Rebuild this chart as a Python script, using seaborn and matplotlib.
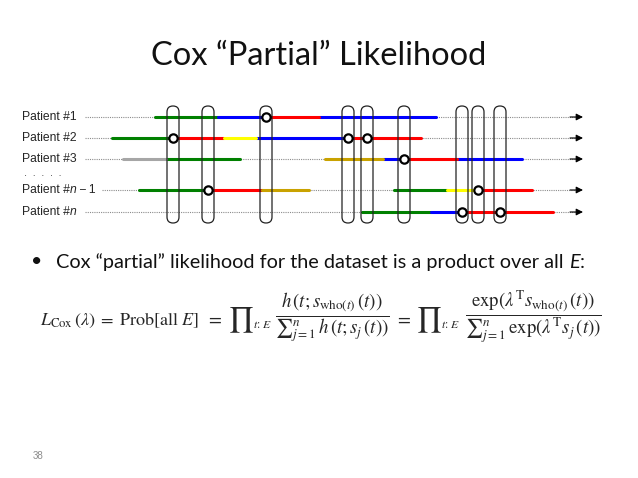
import numpy as np
import pandas as pd
import matplotlib

matplotlib.use('Agg')
import matplotlib.pyplot as plt
from matplotlib.patches import FancyBboxPatch
import seaborn as sns

# patient rows (label pieces: text, italic?)
row_labels = [
    [('Patient #1', False)],
    [('Patient #2', False)],
    [('Patient #3', False)],
    [('Patient #', False), ('n', True), ('\u2009\u2212\u20091', False)],
    [('Patient #', False), ('n', True)],
]
row_y = [117, 138, 159, 190, 212]
line_start = [85, 85, 85, 102, 85]
line_end = 576

# coloured covariate segments per row: (start, end, colour)
segments = [
    [(155, 218, 'green'), (218, 266, 'blue'), (266, 319, 'red'), (319, 436, 'blue')],
    [(112, 173, 'green'), (173, 224, 'red'), (224, 256, 'yellow'), (256, 348, 'blue'),
     (348, 421, 'red')],
    [(123, 166, 'gray'), (166, 240, 'green'), (325, 383, 'olive'), (383, 404, 'blue'),
     (404, 457, 'red'), (457, 522, 'blue')],
    [(139, 208, 'green'), (208, 262, 'red'), (262, 309, 'olive'), (394, 447, 'green'),
     (447, 478, 'yellow'), (478, 532, 'red')],
    [(362, 431, 'green'), (431, 462, 'blue'), (462, 553, 'red')],
]
palette = {'green': '#008000', 'blue': '#0000FF', 'red': '#FF0000',
           'yellow': '#FFFF00', 'gray': '#A6A6A6', 'olive': '#C9A200'}

# event times and which patient had the event
event_times = [173, 208, 266, 348, 367, 404, 462, 478, 500]
event_rows = [1, 3, 0, 1, 1, 2, 4, 3, 4]

title = 'Cox \u201cPartial\u201d Likelihood'
bullet = 'Cox \u201cpartial\u201d likelihood for the dataset is a product over all '

sns.set_theme(style='white')
plt.rcParams['font.family'] = ['Liberation Sans', 'DejaVu Sans']
plt.rcParams['mathtext.fontset'] = 'stix'

fig = plt.figure(figsize=(6.38, 4.78), dpi=100)
ax = fig.add_axes([0, 0, 1, 1])
ax.set_xlim(0, 638)
ax.set_ylim(478, 0)
ax.axis('off')

# title
ax.text(319, 56, title, ha='center', va='center', fontsize=23.5, family='Lato', color='#111111')

# baseline dotted lines and arrows
for y, x0 in zip(row_y, line_start):
    ax.hlines(y, x0, line_end, colors='#8c8c8c', linestyles=(0, (1, 1)), lw=0.8, zorder=1)
    ax.annotate('', xy=(583, y), xytext=(570, y),
                arrowprops=dict(arrowstyle='-|>', color='black', lw=0.8,
                                mutation_scale=10, shrinkA=0, shrinkB=0), zorder=2)

# row labels
for pieces, y in zip(row_labels, row_y):
    prev = None
    for txt, it in pieces:
        style = 'italic' if it else 'normal'
        if prev is None:
            prev = ax.text(22, y, txt, ha='left', va='center', fontsize=8.7, style=style)
        else:
            prev = ax.annotate(txt, xy=(1, 0.5), xycoords=prev, ha='left', va='center',
                               fontsize=8.7, style=style)
ax.text(24, 176, '\u00b7  \u00b7  \u00b7  \u00b7  \u00b7', ha='left', va='center', fontsize=7)

# coloured segments
rows = []
seg_id = 0
for r, segs in enumerate(segments):
    for x0, x1, c in segs:
        rows.append({'x': x0, 'y': row_y[r], 'seg': seg_id, 'colour': c})
        rows.append({'x': x1, 'y': row_y[r], 'seg': seg_id, 'colour': c})
        seg_id += 1
seg_df = pd.DataFrame(rows)
sns.lineplot(data=seg_df, x='x', y='y', hue='colour', units='seg', estimator=None,
             palette=palette, sort=False, lw=2.2, legend=False, ax=ax, zorder=3)
ax.set_xlim(0, 638)
ax.set_ylim(478, 0)

# event boxes
for t in event_times:
    ax.add_patch(FancyBboxPatch((t - 6, 106), 12, 117,
                                boxstyle='round,pad=0,rounding_size=6',
                                fc='none', ec='#222222', lw=0.9, zorder=4))

ev_df = pd.DataFrame({'t': event_times, 'y': [row_y[r] for r in event_rows]})
sns.scatterplot(data=ev_df, x='t', y='y', s=36, color='white', edgecolor='black',
                linewidth=1.6, ax=ax, zorder=5)
ax.set_xlabel('')
ax.set_ylabel('')

# bullet line
ax.text(31, 262, '\u2022', ha='left', va='center', fontsize=14, family='Lato', color='#111111')
b = ax.text(56, 262, bullet, ha='left', va='center', fontsize=14.3, family='Lato',
            color='#111111')
b2 = ax.annotate('E', xy=(1, 0.5), xycoords=b, ha='left', va='center', fontsize=14.3,
                 family='Lato', style='italic', color='#111111')
ax.annotate(':', xy=(1, 0.5), xycoords=b2, ha='left', va='center', fontsize=14.3,
            family='Lato', color='#111111')

# formula
fs = 13.5
ax.text(40, 320, r'$L_{\mathrm{Cox}}\,(\lambda)\;=\;\mathrm{Prob}[\mathrm{all}\ E]$',
        ha='left', va='center', fontsize=13)
ax.text(214, 320, r'$=$', ha='center', va='center', fontsize=fs)
ax.text(228, 320, r'$\prod$', ha='left', va='center', fontsize=18)
ax.text(253, 325, r'$t\!:\,E$', ha='left', va='center', fontsize=8.5)
ax.text(332, 317, r'$\dfrac{h\,(t; s_{\mathrm{who}(t)}\,(t))}{{\sum}_{j=1}^{n}\, h\,(t; s_j\,(t))}$',
        ha='center', va='center', fontsize=fs)
ax.text(403, 320, r'$=$', ha='center', va='center', fontsize=fs)
ax.text(416, 320, r'$\prod$', ha='left', va='center', fontsize=18)
ax.text(441, 325, r'$t\!:\,E$', ha='left', va='center', fontsize=8.5)
ax.text(533, 317,
        r'$\dfrac{\exp(\lambda^{\mathrm{T}} s_{\mathrm{who}(t)}\,(t))}{{\sum}_{j=1}^{n}\,\exp(\lambda^{\mathrm{T}} s_j\,(t))}$',
        ha='center', va='center', fontsize=fs)

# slide number
ax.text(33, 456, '38', ha='left', va='center', fontsize=7, color='#8c8c8c')

fig.savefig('out.png', dpi=100)
